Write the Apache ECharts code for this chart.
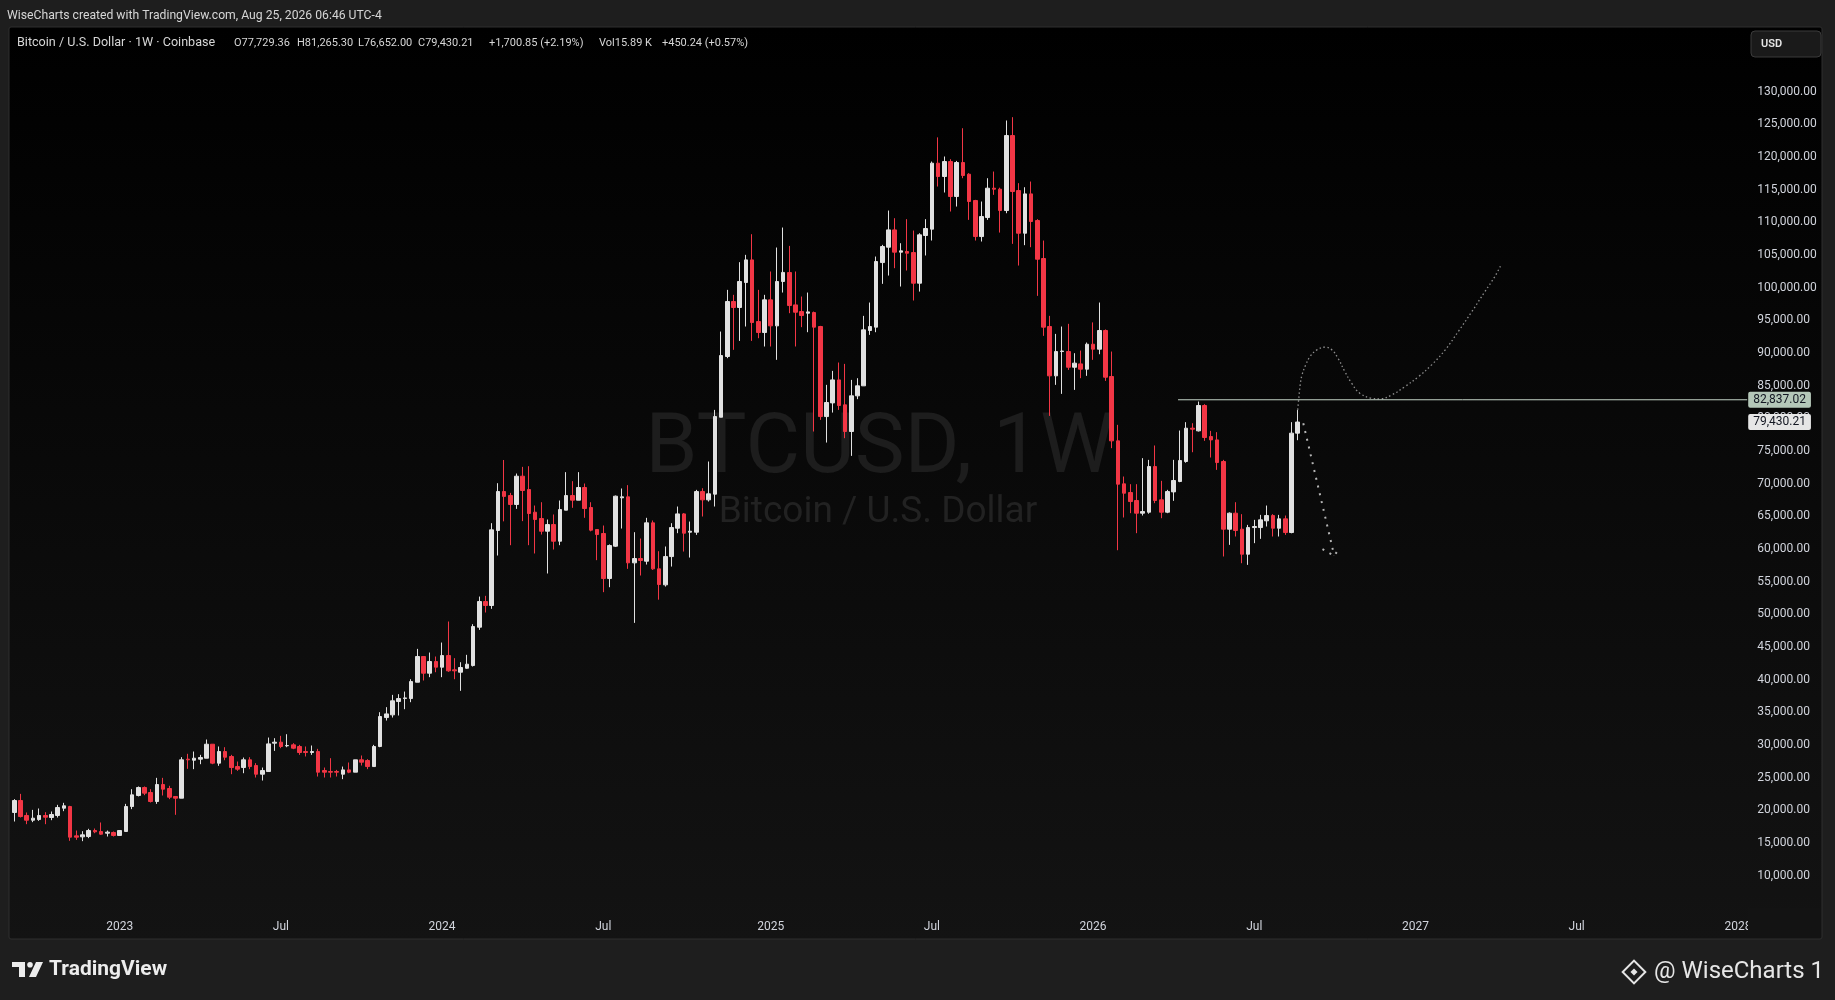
<!DOCTYPE html>
<html>
<head>
<meta charset="utf-8">
<title>BTCUSD 1W</title>
<script src="https://cdn.jsdelivr.net/npm/echarts@6/dist/echarts.min.js"></script>
<style>
  html, body { margin: 0; padding: 0; background: #1e1e1e; }
  #chart { width: 1835px; height: 1000px; }
</style>
</head>
<body>
<div id="chart"></div>
<script>
// weekly bars, Coinbase BTCUSD, first bar = week of 2022-09-05
var firstWeek = Date.UTC(2022, 8, 5);
var weekCount = 280;
var weeks = [];
for (var i = 0; i < weekCount; i++) {
  weeks.push(new Date(firstWeek + i * 7 * 86400000).toISOString().slice(0, 10));
}

var tickLabels = {
  '2023-01-02': '2023', '2023-07-03': 'Jul',
  '2024-01-01': '2024', '2024-07-01': 'Jul',
  '2025-01-06': '2025', '2025-07-07': 'Jul',
  '2026-01-05': '2026', '2026-07-06': 'Jul',
  '2027-01-04': '2027', '2027-07-05': 'Jul',
  '2028-01-03': '2028'
};

var opens = [
  19670, 21500, 19210, 18490, 18590, 19210, 18900, 19210, 20330, 20580,
  16090, 15940, 15990, 16910, 16760, 16500, 16610, 16150, 16760, 20580,
  22270, 23490, 22730, 21350, 23950, 23340, 22120, 21860, 27830, 27670,
  27830, 27980, 30120, 27220, 29000, 28240, 26700, 26550, 27730, 26860,
  25530, 25940, 30280, 30430, 29870, 30020, 29770, 29000, 28850, 29000,
  26090, 25940, 25940, 25530, 26190, 25840, 27730, 27620, 26700, 29770,
  34200, 34610, 36650, 37110, 37110, 39610, 43540, 40990, 42780, 41910,
  43690, 41500, 41140, 41750, 42160, 48030, 51960, 51350, 62830, 68800,
  68180, 66810, 71140, 69100, 65630, 64660, 62720, 63740, 61190, 65940,
  68180, 67470, 69410, 66350, 62980, 62370, 55480, 60430, 67830, 67980,
  57880, 58540, 58130, 64000, 56960, 54510, 58840, 63180, 65370, 62570,
  62570, 68790, 67520, 68390, 80170, 89460, 97880, 96960, 100780, 104250,
  94810, 93130, 98130, 94150, 100940, 102310, 97360, 96340, 96090, 96190,
  94050, 80270, 82360, 85880, 82060, 77980, 83440, 84970, 93440, 93950,
  103840, 106190, 108840, 105430, 105530, 105370, 100680, 107980, 108950, 119050,
  117010, 119300, 113950, 119150, 117360, 113330, 107820, 110730, 115220, 115070,
  111800, 123280, 114860, 108330, 114350, 110270, 104460, 94050, 86500, 90220,
  90220, 87820, 88330, 87520, 91340, 90580, 93440, 86400, 76550, 69970,
  68640, 67420, 65480, 65630, 72620, 67520, 65630, 68740, 70330, 73390,
  78490, 78080, 81960, 77210, 76700, 73390, 63030, 65480, 63030, 59200,
  63280, 63280, 64310, 65120, 63180, 64610, 62520, 77729.36
];

var highs = [
  21710, 22520, 19670, 20070, 20280, 19720, 19820, 20840, 21150, 20690,
  16910, 16810, 17170, 17220, 18140, 16910, 16760, 16960, 20990, 23240,
  23650, 23650, 23240, 24970, 24970, 23750, 22120, 28140, 28650, 29000,
  28490, 30840, 30120, 29770, 29660, 28490, 27470, 28080, 28130, 27220,
  26550, 31140, 31040, 31400, 31650, 30280, 30020, 29770, 29920, 29410,
  26550, 27980, 26190, 26700, 27320, 27730, 28390, 27830, 30020, 35020,
  35790, 37670, 37780, 38180, 40070, 44710, 43600, 44150, 43540, 45680,
  48900, 43290, 42670, 43800, 48490, 52720, 52830, 63950, 70070, 73620,
  68590, 71550, 72570, 72670, 66650, 67160, 64510, 65280, 67420, 71760,
  70380, 71760, 70020, 67160, 62980, 63590, 60700, 68180, 69260, 69770,
  62570, 61600, 64770, 64360, 59660, 60380, 63950, 66500, 65500, 64200,
  69050, 69300, 73390, 81290, 93280, 99660, 98900, 103900, 105020, 108180,
  99660, 98900, 102470, 106140, 109200, 106390, 102470, 98640, 99250, 96340,
  94150, 85120, 87260, 88540, 88330, 85880, 86140, 95680, 97720, 104760,
  106550, 111800, 110630, 106800, 110480, 108740, 108330, 110480, 119300, 123000,
  120070, 119660, 119400, 124400, 117520, 113440, 113180, 116750, 117770, 115300,
  125580, 126090, 115990, 115370, 116240, 110480, 107210, 95680, 92920, 94050,
  94460, 89970, 90370, 91600, 94680, 97720, 93600, 90220, 79000, 71090,
  69920, 69920, 73900, 73640, 75840, 70430, 69050, 73640, 78130, 79410,
  79250, 82570, 82160, 78080, 77880, 73640, 65600, 67160, 65330, 63690,
  64460, 65220, 66650, 65330, 65220, 65120, 79410, 81265.30
];

var lows = [
  18290, 18900, 17880, 18190, 18390, 17880, 18490, 18900, 19870, 15330,
  15480, 15280, 15740, 16500, 16250, 15990, 15990, 16090, 16760, 20180,
  22120, 22320, 21200, 20990, 22270, 21710, 19310, 21860, 26350, 26300,
  27060, 27980, 27060, 26810, 27670, 25530, 26040, 25680, 26300, 25020,
  24560, 25940, 29100, 29510, 29660, 29360, 28490, 28240, 28490, 25170,
  25020, 25020, 25170, 24770, 25680, 25840, 26860, 26300, 26700, 29660,
  33740, 34200, 34510, 35480, 36550, 39610, 39870, 40380, 41140, 40380,
  41200, 40070, 38290, 41650, 42010, 47620, 50280, 50840, 59000, 64230,
  60580, 66140, 64260, 60580, 59310, 62210, 56250, 59920, 60580, 65940,
  66300, 67470, 64770, 62700, 58290, 53390, 54150, 60300, 63130, 56960,
  48690, 55940, 57620, 56800, 52240, 54250, 57310, 62420, 59610, 58690,
  62160, 64970, 67260, 66500, 80170, 89200, 90480, 91850, 94050, 91850,
  92260, 90990, 90990, 88950, 99250, 96090, 90990, 93950, 93180, 77980,
  79760, 76290, 80880, 81290, 76960, 74250, 82930, 84970, 92770, 93180,
  100580, 101850, 102980, 100170, 102620, 98030, 99400, 104920, 107210, 115480,
  114560, 111650, 112410, 116750, 110370, 107210, 107060, 110370, 114200, 108430,
  111390, 106700, 103380, 106500, 106190, 98740, 92620, 80370, 85120, 83740,
  87410, 84350, 86140, 86500, 88950, 89810, 85730, 75430, 59810, 64820,
  65480, 62420, 65120, 65400, 67010, 64710, 65480, 67370, 70220, 73200,
  74810, 77980, 76550, 74000, 72110, 58850, 60630, 61910, 57820, 57570,
  60890, 61550, 63440, 61910, 61910, 62160, 62400, 76652.00
];

var closes = [
  21500, 19050, 18490, 18800, 19210, 18950, 19360, 20430, 20690, 15890,
  15890, 16250, 16910, 16710, 16350, 16660, 16150, 16910, 20580, 22370,
  23490, 22630, 21350, 23950, 23240, 22010, 21860, 27730, 27730, 27980,
  28080, 30120, 27220, 29000, 28130, 26550, 26300, 27730, 26700, 25530,
  26090, 30170, 30430, 29770, 29920, 29510, 28850, 28850, 29000, 25840,
  25840, 25840, 25840, 26190, 25840, 27730, 27370, 26700, 29770, 34360,
  34760, 36760, 37110, 37210, 39710, 43540, 40990, 42780, 41910, 43690,
  41350, 41350, 41860, 42370, 48130, 51960, 51350, 62930, 68800, 68050,
  66810, 71140, 68950, 65430, 64510, 62720, 63740, 61190, 66040, 68180,
  67470, 69410, 66190, 62880, 62210, 55480, 60530, 68080, 67980, 57880,
  58540, 58240, 64000, 56960, 54560, 58840, 63280, 65370, 62420, 62720,
  68790, 67520, 68440, 80270, 89610, 97880, 96960, 100940, 104250, 94660,
  93130, 98130, 94150, 100940, 102330, 97260, 96240, 95730, 96290, 93950,
  80270, 82420, 85880, 81960, 77980, 83440, 84970, 93540, 94050, 104000,
  106290, 108840, 105430, 105630, 105270, 100680, 108080, 109050, 119050, 117010,
  119300, 113950, 119150, 117160, 113180, 107820, 110880, 115220, 115070, 111800,
  123280, 114710, 108330, 114350, 110120, 104350, 93950, 86500, 90220, 90300,
  87820, 88440, 87520, 91340, 90580, 93440, 86290, 76550, 69920, 68540,
  67260, 65480, 65730, 72620, 67420, 65630, 68790, 70480, 73540, 78490,
  78340, 81960, 77060, 76700, 73230, 63030, 65480, 62830, 59200, 63280,
  63440, 64460, 65120, 63180, 64610, 62520, 77729.36, 79430.21
];

// drawn level and projection paths, x = week index (can be fractional)
var levelPrice = 82837.02;
var levelFrom = 187.7;
var pathUp = [
  [207.0, 81300], [207.1, 82300], [207.4, 85100], [207.7, 86650], [208.3, 88180],
  [209.0, 89460], [210.1, 90480], [211.4, 90890], [212.5, 90480], [213.5, 89200],
  [214.6, 87160], [215.7, 85370], [217.0, 83840], [218.9, 83080], [220.3, 82980],
  [222.2, 83590], [224.3, 84860], [226.5, 86390], [228.6, 88180], [230.8, 90480],
  [232.9, 93280], [235.1, 96340], [237.2, 99410], [238.8, 101700], [239.8, 103490]
];
var pathDown = [[207.9, 79250], [212.9, 58950]];
var arrowHead = [[211.0, 59970], [212.9, 58950], [213.8, 60270]];

var font = 'Roboto, "Liberation Sans", sans-serif';
var upColor = '#e1e1e1';
var downColor = '#f23645';

function fmt2(v) {
  return v.toLocaleString('en-US', { minimumFractionDigits: 2, maximumFractionDigits: 2 });
}

var candles = [];
for (var k = 0; k < closes.length; k++) {
  candles.push([opens[k], closes[k], lows[k], highs[k]]);
}

var n = closes.length - 1;
var lastOpen = opens[n], lastClose = closes[n];
var chg = lastClose - closes[n - 1];
var pct = chg / closes[n - 1] * 100;
var sign = chg >= 0 ? '+' : '';

var legendParts = [
  [17, 'Bitcoin / U.S. Dollar · 1W · Coinbase', 12.6],
  [234, 'O' + fmt2(lastOpen), 11],
  [297, 'H' + fmt2(highs[n]), 11],
  [358, 'L' + fmt2(lows[n]), 11],
  [418, 'C' + fmt2(lastClose), 11],
  [489, sign + fmt2(chg) + ' (' + sign + pct.toFixed(2) + '%)', 11],
  [599, 'Vol15.89 K', 11],
  [662, '+450.24 (+0.57%)', 11]
];

var graphics = [
  {
    type: 'rect', z: -10, silent: true,
    shape: { x: 9, y: 27, width: 1813, height: 912, r: 2 },
    style: {
      fill: new echarts.graphic.LinearGradient(0, 0, 0, 1, [
        { offset: 0, color: '#000000' }, { offset: 1, color: '#131313' }
      ]),
      stroke: '#2e2e2e', lineWidth: 1
    }
  },
  {
    type: 'text', z: -5, silent: true, x: 880, y: 451,
    style: { text: 'BTCUSD, 1W', fill: '#1d1d1d', font: '84px ' + font, textAlign: 'center', textVerticalAlign: 'middle' }
  },
  {
    type: 'text', z: -5, silent: true, x: 878, y: 513,
    style: { text: 'Bitcoin / U.S. Dollar', fill: '#222222', font: '37px ' + font, textAlign: 'center', textVerticalAlign: 'middle' }
  },
  {
    type: 'rect', z: 10, silent: true,
    shape: { x: 1748, y: 908, width: 73, height: 30 },
    style: { fill: '#131313' }
  },
  {
    type: 'text', z: 10, silent: true, x: 7, y: 16,
    style: { text: 'WiseCharts created with TradingView.com, Aug 25, 2026 06:46 UTC-4', fill: '#d6d6d6', font: '12.2px ' + font, textVerticalAlign: 'middle' }
  },
  {
    type: 'rect', z: 10, silent: true,
    shape: { x: 1751, y: 31, width: 70, height: 26, r: 4 },
    style: { fill: '#1a1a1a', stroke: '#3b3b3b', lineWidth: 1 }
  },
  {
    type: 'text', z: 11, silent: true, x: 1761, y: 44,
    style: { text: 'USD', fill: '#e6e6e6', font: '600 11px ' + font, textVerticalAlign: 'middle' }
  },
  // footer: TradingView mark and name
  {
    type: 'group', x: 12, y: 962, silent: true,
    children: [
      { type: 'polygon', shape: { points: [[0, 0], [13, 0], [13, 15], [7, 15], [7, 5], [0, 5]] }, style: { fill: '#ececec' } },
      { type: 'circle', shape: { cx: 18, cy: 2.8, r: 2.8 }, style: { fill: '#ececec' } },
      { type: 'polygon', shape: { points: [[24, 0], [31, 0], [24, 15], [17, 15]] }, style: { fill: '#ececec' } }
    ]
  },
  {
    type: 'text', silent: true, x: 49, y: 970,
    style: { text: 'TradingView', fill: '#ececec', font: 'bold 21px ' + font, textVerticalAlign: 'middle' }
  },
  // footer: author mark and handle
  {
    type: 'group', x: 1634, y: 972, silent: true,
    children: [
      { type: 'rect', rotation: Math.PI / 4, shape: { x: -8, y: -8, width: 16, height: 16 }, style: { fill: 'none', stroke: '#e6e6e6', lineWidth: 2 } },
      { type: 'rect', rotation: Math.PI / 4, shape: { x: -2.5, y: -2.5, width: 5, height: 5 }, style: { fill: '#e6e6e6' } }
    ]
  },
  {
    type: 'text', silent: true, x: 1654, y: 972,
    style: { text: '@ WiseCharts 1', fill: '#e6e6e6', font: '24px ' + font, textVerticalAlign: 'middle' }
  }
];
legendParts.forEach(function (p) {
  graphics.push({
    type: 'text', z: 10, silent: true, x: p[0], y: 43,
    style: { text: p[1], fill: '#d6d6d6', font: p[2] + 'px ' + font, textVerticalAlign: 'middle' }
  });
});

var chart = echarts.init(document.getElementById('chart'), null, { renderer: 'canvas' });

var option = {
  backgroundColor: '#1e1e1e',
  animation: false,
  grid: {
    left: 11.2, right: 87.8, top: 26.3, bottom: 59,
    containLabel: false, outerBoundsMode: 'none'
  },
  xAxis: [
    {
      type: 'category',
      data: weeks,
      boundaryGap: true,
      axisLine: { show: false },
      axisTick: { show: false },
      splitLine: { show: false },
      axisLabel: {
        interval: function (idx, val) { return tickLabels.hasOwnProperty(val); },
        formatter: function (val) { return tickLabels[val] || ''; },
        color: '#d1d4dc',
        fontSize: 12,
        fontFamily: font,
        margin: -20
      }
    },
    {
      type: 'value',
      min: -0.5,
      max: weekCount - 0.5,
      show: false
    }
  ],
  yAxis: {
    type: 'value',
    position: 'right',
    min: 0,
    max: 140000,
    interval: 5000,
    axisLine: { show: false },
    axisTick: { show: false },
    splitLine: { show: false },
    axisLabel: {
      color: '#d1d4dc',
      fontSize: 12,
      fontFamily: font,
      align: 'left',
      margin: 10,
      formatter: function (v) {
        return (v < 10000 || v > 130000) ? '' : fmt2(v);
      }
    }
  },
  series: [
    {
      type: 'candlestick',
      data: candles,
      barWidth: 4,
      silent: true,
      itemStyle: {
        color: upColor,
        color0: downColor,
        borderColor: upColor,
        borderColor0: downColor,
        borderWidth: 1
      }
    },
    {
      type: 'line',
      xAxisIndex: 1,
      data: [[levelFrom, levelPrice], [weekCount - 0.5, levelPrice]],
      symbol: 'none',
      silent: true,
      clip: false,
      z: 4,
      lineStyle: { color: '#c3d3c6', width: 1 },
      endLabel: {
        show: true,
        formatter: function () { return fmt2(levelPrice); },
        backgroundColor: '#b4c7b8',
        color: '#131722',
        fontSize: 12,
        fontFamily: font,
        padding: [2, 5, 2, 5],
        borderRadius: 2,
        distance: 1
      }
    },
    {
      type: 'line',
      xAxisIndex: 1,
      data: [[n, lastClose], [weekCount - 0.5, lastClose]],
      symbol: 'none',
      silent: true,
      clip: false,
      z: 4,
      lineStyle: { color: 'rgba(0,0,0,0)', width: 1 },
      endLabel: {
        show: true,
        formatter: function () { return fmt2(lastClose); },
        backgroundColor: '#e6e6e6',
        color: '#131722',
        fontSize: 12,
        fontFamily: font,
        padding: [2, 5, 2, 5],
        borderRadius: 2,
        distance: 1
      }
    },
    {
      type: 'line',
      xAxisIndex: 1,
      data: pathUp,
      smooth: 0.4,
      symbol: 'none',
      silent: true,
      lineStyle: { color: '#8e8e8e', width: 1.3, type: [1.5, 2.5] }
    },
    {
      type: 'line',
      xAxisIndex: 1,
      data: pathDown,
      symbol: 'none',
      silent: true,
      lineStyle: { color: '#b5b5b5', width: 2, type: [2, 6] }
    },
    {
      type: 'line',
      xAxisIndex: 1,
      data: arrowHead,
      symbol: 'none',
      silent: true,
      lineStyle: { color: '#b5b5b5', width: 2, type: [2, 6] }
    }
  ],
  graphic: graphics
};

option && chart.setOption(option);
</script>
</body>
</html>
